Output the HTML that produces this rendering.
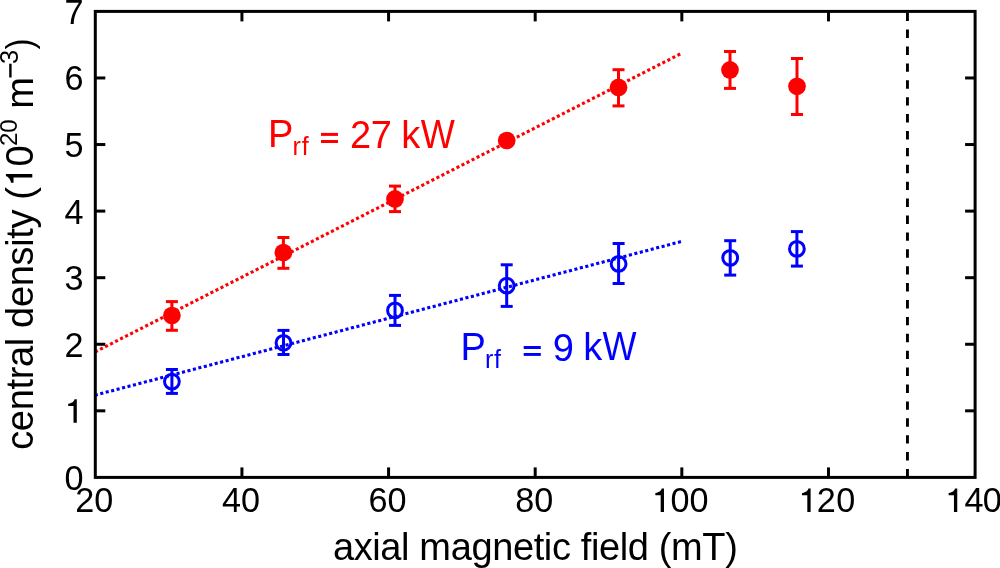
<!DOCTYPE html>
<html><head><meta charset="utf-8"><style>
html,body{margin:0;padding:0;background:#fff;}
svg{display:block;will-change:transform;}
text{font-family:'Liberation Sans',sans-serif;}
</style></head><body>
<svg width="1000" height="568" viewBox="0 0 1000 568">
<rect width="1000" height="568" fill="#fff"/>
<text x="94.30" y="511.8" font-size="34.2" text-anchor="middle">20</text>
<text x="240.93" y="511.8" font-size="34.2" text-anchor="middle">40</text>
<text x="387.57" y="511.8" font-size="34.2" text-anchor="middle">60</text>
<text x="534.20" y="511.8" font-size="34.2" text-anchor="middle">80</text>
<path d="M663.98,488.45 L663.98,512.00 L660.68,512.00 L660.68,495.25 L655.38,495.25 L655.38,492.95 C657.68,492.75 659.68,491.85 660.68,490.55 C661.38,489.65 661.58,489.05 661.68,488.45 Z" fill="#000"/>
<text x="670.57" y="511.8" font-size="34.2">0</text>
<text x="689.57" y="511.8" font-size="34.2">0</text>
<path d="M810.62,488.45 L810.62,512.00 L807.32,512.00 L807.32,495.25 L802.02,495.25 L802.02,492.95 C804.32,492.75 806.32,491.85 807.32,490.55 C808.02,489.65 808.22,489.05 808.32,488.45 Z" fill="#000"/>
<text x="816.86" y="511.8" font-size="34.2">2</text>
<text x="836.20" y="511.8" font-size="34.2">0</text>
<path d="M957.25,488.45 L957.25,512.00 L953.95,512.00 L953.95,495.25 L948.65,495.25 L948.65,492.95 C950.95,492.75 952.95,491.85 953.95,490.55 C954.65,489.65 954.85,489.05 954.95,488.45 Z" fill="#000"/>
<text x="964.52" y="511.8" font-size="34.2">4</text>
<text x="982.83" y="511.8" font-size="34.2">0</text>
<text x="83.6" y="489.80" font-size="34.2" text-anchor="end">0</text>
<path d="M76.80,399.20 L76.80,422.75 L73.50,422.75 L73.50,406.00 L68.20,406.00 L68.20,403.70 C70.50,403.50 72.50,402.60 73.50,401.30 C74.20,400.40 74.40,399.80 74.50,399.20 Z" fill="#000"/>
<text x="83.6" y="356.66" font-size="34.2" text-anchor="end">2</text>
<text x="83.6" y="290.09" font-size="34.2" text-anchor="end">3</text>
<text x="83.6" y="223.51" font-size="34.2" text-anchor="end">4</text>
<text x="83.6" y="156.94" font-size="34.2" text-anchor="end">5</text>
<text x="83.6" y="90.37" font-size="34.2" text-anchor="end">6</text>
<text x="83.6" y="23.80" font-size="34.2" text-anchor="end">7</text>
<line x1="907.45" y1="12.7" x2="907.45" y2="477.4" stroke="#000" stroke-width="2.9" stroke-dasharray="8.4 8.5"/>
<line x1="95.05" y1="351.93" x2="681" y2="53.6" stroke="#f00" stroke-width="3.1" stroke-dasharray="3.1 2.534"/>
<line x1="94.8" y1="395.23" x2="681" y2="241.6" stroke="#00f" stroke-width="3.1" stroke-dasharray="3.1 2.534"/>
<line x1="171.9" y1="301.6" x2="171.9" y2="330.3" stroke="#f00" stroke-width="3"/><line x1="165.9" y1="301.6" x2="177.9" y2="301.6" stroke="#f00" stroke-width="3"/><line x1="165.9" y1="330.3" x2="177.9" y2="330.3" stroke="#f00" stroke-width="3"/>
<circle cx="171.9" cy="315.5" r="8.85" fill="#f00"/>
<line x1="283.4" y1="237.5" x2="283.4" y2="268.3" stroke="#f00" stroke-width="3"/><line x1="277.4" y1="237.5" x2="289.4" y2="237.5" stroke="#f00" stroke-width="3"/><line x1="277.4" y1="268.3" x2="289.4" y2="268.3" stroke="#f00" stroke-width="3"/>
<circle cx="283.4" cy="252.6" r="8.85" fill="#f00"/>
<line x1="395.0" y1="186.1" x2="395.0" y2="211.6" stroke="#f00" stroke-width="3"/><line x1="389.0" y1="186.1" x2="401.0" y2="186.1" stroke="#f00" stroke-width="3"/><line x1="389.0" y1="211.6" x2="401.0" y2="211.6" stroke="#f00" stroke-width="3"/>
<circle cx="395.0" cy="198.9" r="8.85" fill="#f00"/>
<circle cx="506.7" cy="140.5" r="8.85" fill="#f00"/>
<line x1="618.5" y1="69.7" x2="618.5" y2="105.9" stroke="#f00" stroke-width="3"/><line x1="612.5" y1="69.7" x2="624.5" y2="69.7" stroke="#f00" stroke-width="3"/><line x1="612.5" y1="105.9" x2="624.5" y2="105.9" stroke="#f00" stroke-width="3"/>
<circle cx="618.5" cy="87.4" r="8.85" fill="#f00"/>
<line x1="730.0" y1="51.5" x2="730.0" y2="88.4" stroke="#f00" stroke-width="3"/><line x1="724.0" y1="51.5" x2="736.0" y2="51.5" stroke="#f00" stroke-width="3"/><line x1="724.0" y1="88.4" x2="736.0" y2="88.4" stroke="#f00" stroke-width="3"/>
<circle cx="730.0" cy="69.9" r="8.85" fill="#f00"/>
<line x1="797.0" y1="58.5" x2="797.0" y2="114.5" stroke="#f00" stroke-width="3"/><line x1="791.0" y1="58.5" x2="803.0" y2="58.5" stroke="#f00" stroke-width="3"/><line x1="791.0" y1="114.5" x2="803.0" y2="114.5" stroke="#f00" stroke-width="3"/>
<circle cx="797.0" cy="86.3" r="8.85" fill="#f00"/>
<line x1="171.9" y1="369.5" x2="171.9" y2="393.4" stroke="#00f" stroke-width="3"/><line x1="165.9" y1="369.5" x2="177.9" y2="369.5" stroke="#00f" stroke-width="3"/><line x1="165.9" y1="393.4" x2="177.9" y2="393.4" stroke="#00f" stroke-width="3"/>
<circle cx="171.9" cy="381.60" r="7.4" fill="none" stroke="#00f" stroke-width="3"/>
<line x1="283.5" y1="330.4" x2="283.5" y2="354.5" stroke="#00f" stroke-width="3"/><line x1="277.5" y1="330.4" x2="289.5" y2="330.4" stroke="#00f" stroke-width="3"/><line x1="277.5" y1="354.5" x2="289.5" y2="354.5" stroke="#00f" stroke-width="3"/>
<circle cx="283.5" cy="342.80" r="7.4" fill="none" stroke="#00f" stroke-width="3"/>
<line x1="395.0" y1="295.4" x2="395.0" y2="325.4" stroke="#00f" stroke-width="3"/><line x1="389.0" y1="295.4" x2="401.0" y2="295.4" stroke="#00f" stroke-width="3"/><line x1="389.0" y1="325.4" x2="401.0" y2="325.4" stroke="#00f" stroke-width="3"/>
<circle cx="395.0" cy="310.40" r="7.4" fill="none" stroke="#00f" stroke-width="3"/>
<line x1="506.7" y1="264.8" x2="506.7" y2="306.4" stroke="#00f" stroke-width="3"/><line x1="500.7" y1="264.8" x2="512.7" y2="264.8" stroke="#00f" stroke-width="3"/><line x1="500.7" y1="306.4" x2="512.7" y2="306.4" stroke="#00f" stroke-width="3"/>
<circle cx="506.7" cy="285.70" r="7.4" fill="none" stroke="#00f" stroke-width="3"/>
<line x1="618.6" y1="243.5" x2="618.6" y2="283.5" stroke="#00f" stroke-width="3"/><line x1="612.6" y1="243.5" x2="624.6" y2="243.5" stroke="#00f" stroke-width="3"/><line x1="612.6" y1="283.5" x2="624.6" y2="283.5" stroke="#00f" stroke-width="3"/>
<circle cx="618.6" cy="263.90" r="7.4" fill="none" stroke="#00f" stroke-width="3"/>
<line x1="730.2" y1="240.7" x2="730.2" y2="275.1" stroke="#00f" stroke-width="3"/><line x1="724.2" y1="240.7" x2="736.2" y2="240.7" stroke="#00f" stroke-width="3"/><line x1="724.2" y1="275.1" x2="736.2" y2="275.1" stroke="#00f" stroke-width="3"/>
<circle cx="730.2" cy="257.90" r="7.4" fill="none" stroke="#00f" stroke-width="3"/>
<line x1="796.9" y1="231.6" x2="796.9" y2="266.1" stroke="#00f" stroke-width="3"/><line x1="790.9" y1="231.6" x2="802.9" y2="231.6" stroke="#00f" stroke-width="3"/><line x1="790.9" y1="266.1" x2="802.9" y2="266.1" stroke="#00f" stroke-width="3"/>
<circle cx="796.9" cy="248.90" r="7.4" fill="none" stroke="#00f" stroke-width="3"/>
<rect x="95.3" y="11.4" width="879.80" height="466.00" fill="none" stroke="#000" stroke-width="3"/>
<line x1="241.93" y1="477.4" x2="241.93" y2="467.4" stroke="#000" stroke-width="3"/>
<line x1="241.93" y1="11.4" x2="241.93" y2="21.4" stroke="#000" stroke-width="3"/>
<line x1="388.57" y1="477.4" x2="388.57" y2="467.4" stroke="#000" stroke-width="3"/>
<line x1="388.57" y1="11.4" x2="388.57" y2="21.4" stroke="#000" stroke-width="3"/>
<line x1="535.20" y1="477.4" x2="535.20" y2="467.4" stroke="#000" stroke-width="3"/>
<line x1="535.20" y1="11.4" x2="535.20" y2="21.4" stroke="#000" stroke-width="3"/>
<line x1="681.83" y1="477.4" x2="681.83" y2="467.4" stroke="#000" stroke-width="3"/>
<line x1="681.83" y1="11.4" x2="681.83" y2="21.4" stroke="#000" stroke-width="3"/>
<line x1="828.47" y1="477.4" x2="828.47" y2="467.4" stroke="#000" stroke-width="3"/>
<line x1="828.47" y1="11.4" x2="828.47" y2="21.4" stroke="#000" stroke-width="3"/>
<line x1="95.3" y1="410.83" x2="105.3" y2="410.83" stroke="#000" stroke-width="3"/>
<line x1="975.1" y1="410.83" x2="965.1" y2="410.83" stroke="#000" stroke-width="3"/>
<line x1="95.3" y1="344.26" x2="105.3" y2="344.26" stroke="#000" stroke-width="3"/>
<line x1="975.1" y1="344.26" x2="965.1" y2="344.26" stroke="#000" stroke-width="3"/>
<line x1="95.3" y1="277.69" x2="105.3" y2="277.69" stroke="#000" stroke-width="3"/>
<line x1="975.1" y1="277.69" x2="965.1" y2="277.69" stroke="#000" stroke-width="3"/>
<line x1="95.3" y1="211.11" x2="105.3" y2="211.11" stroke="#000" stroke-width="3"/>
<line x1="975.1" y1="211.11" x2="965.1" y2="211.11" stroke="#000" stroke-width="3"/>
<line x1="95.3" y1="144.54" x2="105.3" y2="144.54" stroke="#000" stroke-width="3"/>
<line x1="975.1" y1="144.54" x2="965.1" y2="144.54" stroke="#000" stroke-width="3"/>
<line x1="95.3" y1="77.97" x2="105.3" y2="77.97" stroke="#000" stroke-width="3"/>
<line x1="975.1" y1="77.97" x2="965.1" y2="77.97" stroke="#000" stroke-width="3"/>
<g fill="#f00"><text x="267.9" y="147.1" font-size="38">P</text><text x="292.55" y="155" font-size="25">r</text><text x="301.85" y="155" font-size="25">f</text><rect x="321" y="132.9" width="17" height="3"/><rect x="321" y="140" width="17" height="3"/><text x="350.1" y="147.8" font-size="38" letter-spacing="-0.6">27</text><text x="401.34" y="147.6" font-size="38">k</text><text transform="translate(420.64,147.6) scale(0.95,1.057)" font-size="38">W</text></g>
<g fill="#00f"><text x="460.5" y="360.1" font-size="38">P</text><text x="485.05" y="367.8" font-size="25">r</text><text x="494.05" y="367.8" font-size="25">f</text><rect x="523.7" y="346" width="17.1" height="3"/><rect x="523.7" y="353" width="17.1" height="2.9"/><text x="552.8" y="360.6" font-size="38">9</text><text x="583.24" y="360.0" font-size="38">k</text><text transform="translate(602.54,360.0) scale(0.95,1.057)" font-size="38">W</text></g>
<text x="332.9" y="559.9" font-size="38" letter-spacing="-0.375">axial magnetic field (mT)</text>
<g transform="translate(33.1,449.8) rotate(-90)"><text x="0" y="0" font-size="38" letter-spacing="-0.34">central density (</text><path d="M275.80,-27.18 L275.80,-0.80 L272.40,-0.80 L272.40,-19.56 L266.94,-19.56 L266.94,-22.14 C269.31,-22.36 271.37,-23.37 272.40,-24.82 C273.12,-25.83 273.33,-26.50 273.43,-27.18 Z" fill="#000"/><text x="283.23" y="0" font-size="38">0</text><text x="303.7" y="-15.8" font-size="24">20</text><text x="341.1" y="0" font-size="38">m</text><rect x="372.3" y="-23.9" width="13.8" height="2.4"/><text x="385.8" y="-15.5" font-size="25.5">3</text><text transform="translate(400.3,-0.7) scale(0.88,0.99)" font-size="38">)</text></g>
</svg>
</body></html>
